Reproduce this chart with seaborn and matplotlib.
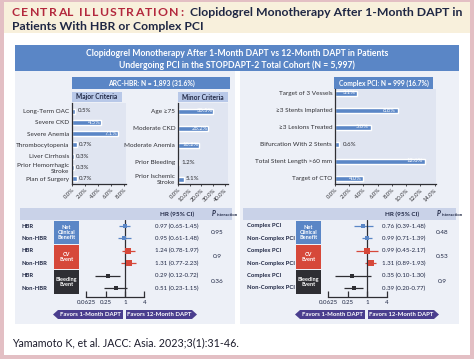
import numpy as np
import pandas as pd
import matplotlib
matplotlib.use("Agg")
import matplotlib.pyplot as plt
from matplotlib.patches import Rectangle, Polygon
from matplotlib.ticker import NullLocator
import seaborn as sns

# ---------------- data ----------------
major_labels = ["Long-Term OAC", "Severe CKD", "Severe Anemia", "Thrombocytopenia",
                "Liver Cirrhosis", "Prior Hemorrhagic\nStroke", "Plan of Surgery"]
major_pct = [0.5, 4.5, 7.1, 0.7, 0.3, 0.3, 0.7]
minor_labels = ["Age ≥75", "Moderate CKD", "Moderate Anemia", "Prior Bleeding",
                "Prior Ischemic\nStroke"]
minor_pct = [30.5, 26.2, 18.2, 1.2, 5.1]
complex_labels = ["Target of 3 Vessels", "≥3 Stents Implanted", "≥3 Lesions Treated",
                  "Bifurcation With 2 Stents", "Total Stent Length >60 mm", "Target of CTO"]
complex_pct = [3.1, 8.8, 5.0, 0.6, 12.6, 4.0]

endpoints = ["Net\nClinical\nBenefit", "CV\nEvent", "Bleeding\nEvent"]
hbr_groups = ["HBR", "Non-HBR"]
hbr_hr = [0.97, 0.95, 1.24, 1.31, 0.29, 0.51]
hbr_lo = [0.65, 0.61, 0.78, 0.77, 0.12, 0.23]
hbr_hi = [1.45, 1.48, 1.97, 2.23, 0.72, 1.15]
hbr_p = [0.95, 0.9, 0.36]
cpci_groups = ["Complex PCI", "Non-Complex PCI"]
cpci_hr = [0.76, 0.99, 0.99, 1.31, 0.35, 0.39]
cpci_lo = [0.39, 0.71, 0.45, 0.89, 0.10, 0.20]
cpci_hi = [1.48, 1.39, 2.17, 1.93, 1.30, 0.77]
cpci_p = [0.48, 0.53, 0.9]
hr_ticks = [0.0625, 0.25, 1, 4]

# ---------------- style ----------------
sns.set_theme(style="white")
plt.rcParams["font.family"] = ["Lato", "DejaVu Sans"]

BLUE = "#5a86c6"
RED = "#d6483a"
DARK = "#2e2e33"
NAVY = "#1f2744"
CRIMSON = "#b3283d"
PURPLE = "#4a3e8e"
PANEL = "#edf0f7"
PLOTBG = "#e0e5f1"
HEAD = "#b8c8e8"
STRIP = "#c9d2e8"

W, H = 474, 359
fig = plt.figure(figsize=(W / 100, H / 100), dpi=100)
fig.patch.set_facecolor("#e3bfc4")

cv = fig.add_axes([0, 0, 1, 1])
cv.set_xlim(0, W)
cv.set_ylim(H, 0)
cv.axis("off")
renderer = fig.canvas.get_renderer()


def px_axes(x0, y0, x1, y1):
    return fig.add_axes([x0 / W, 1 - y1 / H, (x1 - x0) / W, (y1 - y0) / H])


def rect(x0, y0, x1, y1, color):
    cv.add_patch(Rectangle((x0, y0), x1 - x0, y1 - y0, color=color, lw=0))


def tracked_text(x, y, s, track, **kw):
    # letter-spaced text: each glyph placed at the end of its measured prefix
    probe = cv.text(0, 0, "", **kw)
    for k, ch in enumerate(s):
        if ch == " ":
            continue
        probe.set_text(s[:k + 1])
        w = probe.get_window_extent(renderer).width
        cv.text(x + w + k * track, y, ch, ha="right", **kw)
    probe.remove()


# background blocks
rect(4, 2, 470, 33, "#f8f0dc")
rect(4, 33, 470, 355, "white")
rect(15, 45, 459, 71, BLUE)
rect(15, 71, 235, 324, PANEL)
rect(240, 71, 459, 324, PANEL)

tracked_text(12, 13, "CENTRAL ILLUSTRATION:", 1.2, color=CRIMSON, fontsize=8.8,
             fontweight="bold", va="center")
cv.text(190, 13, "Clopidogrel Monotherapy After 1-Month DAPT in", color=NAVY,
        fontsize=8.8, fontweight="bold", va="center")
cv.text(12, 26, "Patients With HBR or Complex PCI", color=NAVY, fontsize=8.8,
        fontweight="bold", va="center")

cv.text(237, 54, "Clopidogrel Monotherapy After 1-Month DAPT vs 12-Month DAPT in Patients",
        color="white", fontsize=6.2, fontweight="bold", ha="center", va="center")
cv.text(237, 65, "Undergoing PCI in the STOPDAPT-2 Total Cohort (N = 5,997)",
        color="white", fontsize=6.2, fontweight="bold", ha="center", va="center")

# group headers
rect(72, 77, 230, 89, BLUE)
cv.text(151, 83, "ARC-HBR: N = 1,893 (31.6%)", color="white", fontsize=4.9,
        fontweight="bold", ha="center", va="center")
rect(72, 92, 122, 102, HEAD)
cv.text(97, 97, "Major Criteria", color=NAVY, fontsize=4.8, fontweight="bold",
        ha="center", va="center")
rect(178, 92, 228, 102, HEAD)
cv.text(203, 97, "Minor Criteria", color=NAVY, fontsize=4.8, fontweight="bold",
        ha="center", va="center")
rect(334, 77, 433, 89, BLUE)
cv.text(383.5, 83, "Complex PCI: N = 999 (16.7%)", color="white", fontsize=4.9,
        fontweight="bold", ha="center", va="center")


def bar_panel(box, labels, values, xmax, xticks, first_row, step):
    x0, y0, x1, y1 = box
    ax = px_axes(*box)
    df = pd.DataFrame({"item": labels, "pct": values})
    sns.barplot(data=df, x="pct", y="item", ax=ax, color=BLUE, saturation=1,
                width=5 / step, errorbar=None)
    ax.set_facecolor(PLOTBG)
    ax.set_xlim(0, xmax)
    ax.set_ylim((y1 - first_row) / step, -(first_row - y0) / step)
    ax.set_xlabel("")
    ax.set_ylabel("")
    for s in ["top", "right"]:
        ax.spines[s].set_visible(False)
    for s in ["left", "bottom"]:
        ax.spines[s].set_color(DARK)
        ax.spines[s].set_linewidth(0.9)
    ax.tick_params(axis="y", length=0, pad=2, labelsize=4.6, labelcolor=DARK)
    ax.set_xticks(xticks, labels=[f"{t:.1f}%" for t in xticks])
    ax.tick_params(axis="x", length=1.5, width=0.6, color=DARK, pad=1,
                   labelsize=4.2, labelcolor=DARK, bottom=True)
    for lab in ax.get_xticklabels():
        lab.set_rotation(45)
        lab.set_ha("right")
        lab.set_rotation_mode("anchor")
    for i, v in enumerate(values):
        if v / xmax > 0.18:
            ax.text(v - xmax * 0.015, i, f"{v:.1f}%", ha="right", va="center",
                    color="white", fontsize=4.2)
        else:
            ax.text(v + xmax * 0.04, i, f"{v:.1f}%", ha="left", va="center",
                    color=DARK, fontsize=4.4)
    return ax


bar_panel((72, 103, 126, 184), major_labels, major_pct, 8.3, [0, 2, 4, 6, 8], 111, 11.33)
bar_panel((178, 103, 228, 184), minor_labels, minor_pct, 43, [0, 10, 20, 30, 40], 111, 17)
bar_panel((335, 89, 436, 184), complex_labels, complex_pct, 14.2,
          [0, 2, 4, 6, 8, 10, 12, 14], 93, 17)


def arrow(x0, x1, y0, y1, direction, text):
    tip = 5
    ym = (y0 + y1) / 2
    if direction == "left":
        pts = [(x0, ym), (x0 + tip, y0), (x1, y0), (x1, y1), (x0 + tip, y1)]
    else:
        pts = [(x0, y0), (x1 - tip, y0), (x1, ym), (x1 - tip, y1), (x0, y1)]
    cv.add_patch(Polygon(pts, closed=True, color=PURPLE, lw=0))
    cv.text((x0 + x1) / 2 + (2 if direction == "left" else -2), ym, text,
            color="white", fontsize=4.3, fontweight="bold", ha="center", va="center")


def forest_panel(strip, lab_x, box_x, vline, ax_x, hr_x, hr_head_x, p_x,
                 groups, hr, lo, hi, pvals):
    unit = 9.75
    r0, step, top, bottom = 226, 12.4, 220, 297
    rect(strip[0], 208, strip[1], 220, STRIP)
    cv.text(hr_head_x, 214, "HR (95% CI)", color=NAVY, fontsize=4.6,
            fontweight="bold", ha="center", va="center")
    cv.text(p_x - 1, 214, "P", color=NAVY, fontsize=4.8, fontweight="bold",
            fontstyle="italic", ha="right", va="center")
    cv.text(p_x - 0.5, 214.6, "interaction", color=NAVY, fontsize=3.2,
            fontweight="bold", ha="left", va="center")

    colors = [BLUE, RED, DARK]
    sizes = [2.6, 4.0, 3.3]
    ax = px_axes(ax_x[0], top, ax_x[1], bottom)
    ax.set_facecolor("none")
    for i in range(len(hr)):
        k = i // 2
        ax.errorbar(hr[i], i, xerr=[[hr[i] - lo[i]], [hi[i] - hr[i]]], fmt="s",
                    color=colors[k], ms=sizes[k], mew=0, lw=0.9, capsize=0)
        ypx = r0 + i * step
        cv.text(lab_x, ypx, groups[i % 2], color=NAVY, fontsize=4.2,
                fontweight="bold", ha="left", va="center")
        cv.text(hr_x, ypx, f"{hr[i]:.2f} ({lo[i]:.2f}-{hi[i]:.2f})", color=NAVY,
                fontsize=4.4, ha="left", va="center")
    for k, name in enumerate(endpoints):
        y0 = r0 + 2 * k * step - 5.5
        y1 = r0 + (2 * k + 1) * step + 5.5
        rect(box_x[0], y0, box_x[1], y1, colors[k])
        cv.text((box_x[0] + box_x[1]) / 2, (y0 + y1) / 2, name, color="white",
                fontsize=4.0, fontweight="bold", ha="center", va="center",
                linespacing=1.0)
        cv.text(p_x, r0 + (2 * k + 0.5) * step, f"{pvals[k]:g}", color=NAVY,
                fontsize=4.6, ha="center", va="center")
    ax.set_xscale("log", base=2)
    ax.set_xlim(2 ** ((ax_x[0] - vline) / unit), 2 ** ((ax_x[1] - vline) / unit))
    ax.set_ylim((bottom - r0) / step, -(r0 - top) / step)
    ax.axvline(1, color=DARK, lw=0.9)
    for s in ["top", "right", "left"]:
        ax.spines[s].set_visible(False)
    ax.spines["bottom"].set_color(DARK)
    ax.spines["bottom"].set_linewidth(0.9)
    ax.spines["bottom"].set_bounds(hr_ticks[0], hr_ticks[-1])
    ax.set_yticks([])
    ax.set_xticks(hr_ticks, labels=[f"{t:g}" for t in hr_ticks])
    ax.xaxis.set_minor_locator(NullLocator())
    ax.tick_params(axis="x", direction="in", length=4, width=0.9, color=DARK,
                   pad=2, labelsize=4.4, labelcolor=NAVY, bottom=True)

    arrow(vline - 72, vline - 2, 310, 319, "left", "Favors 1-Month DAPT")
    arrow(vline + 1, vline + 72, 310, 319, "right", "Favors 12-Month DAPT")


forest_panel((20, 232), 22, (54, 79), 125, (78, 152), 155, 177, 217,
             hbr_groups, hbr_hr, hbr_lo, hbr_hi, hbr_p)
forest_panel((243, 456), 247, (296, 321), 367, (320, 394), 382, 402, 442,
             cpci_groups, cpci_hr, cpci_lo, cpci_hi, cpci_p)

cv.text(12, 343, "Yamamoto K, et al. JACC: Asia. 2023;3(1):31-46.", color="#1b1b2b",
        fontsize=7.7, ha="left", va="center")

fig.savefig("out.png", dpi=100, facecolor=fig.get_facecolor())
